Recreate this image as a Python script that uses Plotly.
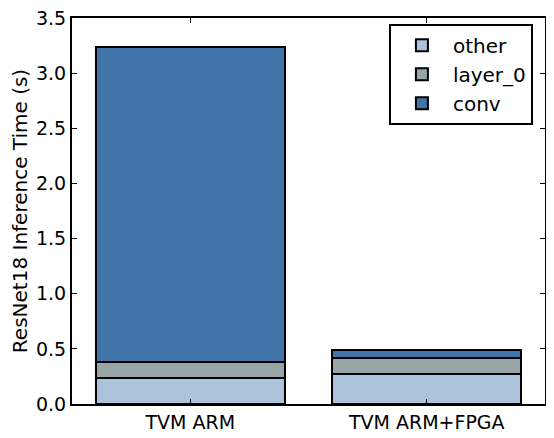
import plotly.graph_objects as go

categories = ["TVM ARM", "TVM ARM+FPGA"]
other = [0.232, 0.27]
layer_0 = [0.148, 0.146]
conv = [2.86, 0.078]
series_names = ["other", "layer_0", "conv"]
colors = ["#ADC3DC", "#98A5A7", "#4175AA"]
y_ticks = [0.0, 0.5, 1.0, 1.5, 2.0, 2.5, 3.0, 3.5]

fig = go.Figure()
for name, vals, col in zip(series_names, [other, layer_0, conv], colors):
    fig.add_trace(go.Bar(
        x=[0, 1], y=vals, name=name, legendgroup=name,
        marker=dict(color=col, line=dict(color="black", width=2)),
        width=0.8,
    ))

font_family = "DejaVu Sans"
fig.update_layout(
    barmode="stack",
    width=546, height=430,
    margin=dict(l=64, r=9, t=10, b=34, autoexpand=False),
    paper_bgcolor="white", plot_bgcolor="white",
    font=dict(family=font_family, size=19, color="black"),
    legend=dict(
        x=0.67, y=0.985, xanchor="left", yanchor="top",
        bordercolor="black", borderwidth=2, bgcolor="white",
        font=dict(size=20), traceorder="normal",
        itemwidth=52, tracegroupgap=3,
    ),
    xaxis=dict(
        range=[-0.5, 1.5], tickvals=[0, 1], ticktext=categories,
        ticks="inside", ticklen=5, tickcolor="black", tickwidth=1,
        showline=True, linecolor="black", linewidth=2, mirror="allticks",
        showgrid=False, zeroline=False, tickfont=dict(size=19),
        automargin=False, ticklabeloverflow="allow",
    ),
    yaxis=dict(
        range=[0, 3.5], tickvals=y_ticks, ticktext=[f"{v:.1f}" for v in y_ticks],
        ticks="inside", ticklen=5, tickcolor="black", tickwidth=1,
        showline=True, linecolor="black", linewidth=2, mirror="allticks",
        showgrid=False, zeroline=False, tickfont=dict(size=19),
        automargin=False, ticklabeloverflow="allow",
        title=dict(text="ResNet18 Inference Time (s)", font=dict(size=20), standoff=4),
    ),
)

fig.write_html("out.html")
